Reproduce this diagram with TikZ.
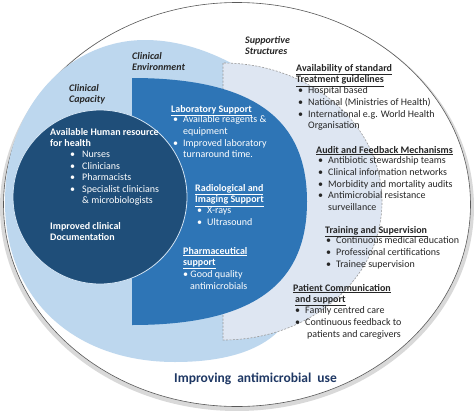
\documentclass[tikz,border=0pt]{standalone}
\usepackage{fontspec}
\setmainfont{Carlito}
\definecolor{capblue}{HTML}{1F4E79}
\definecolor{envblue}{HTML}{2E75B6}
\definecolor{paleblue}{HTML}{BDD7EE}
\definecolor{suppblue}{HTML}{DEE6F2}
\definecolor{titleblue}{HTML}{1F3864}
\definecolor{txtgray}{HTML}{262626}
\newcommand{\blt}{\makebox[10pt][l]{\textbullet}}
\newcommand{\cnt}{\hspace*{10pt}}

\begin{document}
\begin{tikzpicture}[x=1pt, y=-1pt,
    txt/.style = {anchor=north west, inner sep=0pt, align=left, font=\fontsize{10}{11.6}\selectfont},
    head/.style = {txt, font=\fontsize{10}{11.6}\selectfont\bfseries},
    lbl/.style = {head, font=\fontsize{10}{11.6}\selectfont\bfseries\itshape, text=txtgray},
    inner/.style = {text=white},
    outer/.style = {text=txtgray}]

    \useasboundingbox (0,0) rectangle (474,410);

    % rings
    \fill[gray!30] (237,207) ellipse[x radius=237, y radius=204];
    \filldraw[fill=white, draw=gray!70!black, line width=0.6pt] (237,204.5) ellipse[x radius=233.5, y radius=202];
    \fill[paleblue] (5,202) .. controls (5,105) and (70,40) .. (145,40)
        .. controls (200,40) and (250,70) .. (285,100)
        .. controls (330,150) and (330,255) .. (292,312)
        .. controls (275,348) and (230,362) .. (175,362)
        .. controls (75,362) and (5,300) .. (5,202);
    \filldraw[fill=suppblue, draw=gray!80, line width=0.6pt, dash pattern=on 2pt off 1.5pt]
        (223,63) -- (223,340) arc[start angle=90, end angle=-90, x radius=159, y radius=138.5] -- cycle;
    \fill[envblue] (132,78) .. controls (255,78) and (307,120) .. (307,201.5)
        .. controls (307,283) and (255,325) .. (132,325) -- cycle;
    \filldraw[fill=capblue, draw=paleblue!70!white, line width=0.8pt] (100,197) circle[radius=87];

    %--------------------------------------------

    \node[lbl] (sup) at (245,35.8) {Supportive\\Structures};
    \node[lbl] (env) at (132,51.8) {Clinical\\Environment};
    \node[lbl] (cap) at (69,83.8) {Clinical\\Capacity};

    %--------------------------------------------

    \node[head, inner] (hr) at (50,127.8) {Available Human resource\\for health};
    \node[txt, inner] (hrl) at (70,150.8) {\blt\hspace*{2pt}Nurses\\\blt\hspace*{2pt}Clinicians\\\blt\hspace*{2pt}Pharmacists\\
        \blt\hspace*{2pt}Specialist clinicians\\\cnt\hspace*{2pt}\& microbiologists};
    \node[head, inner] (doc) at (50,221.8) {Improved clinical\\Documentation};

    %--------------------------------------------

    \node[head, inner] (lab) at (171,104.8) {\underline{Laboratory Support}};
    \node[txt, inner] (labl) at (173,115.8) {\blt Available reagents \&\\\cnt equipment\\\blt Improved laboratory\\\cnt turnaround time.};
    \node[head, inner] (rad) at (195,183.8) {\underline{Radiological and}\\\underline{Imaging Support}};
    \node[txt, inner] (radl) at (197,206.8) {\blt X-rays\\\blt Ultrasound};
    \node[head, inner] (pha) at (183,246.8) {\underline{Pharmaceutical}\\\underline{support}};
    \node[txt, inner] (phal) at (183,270.8) {\textbullet\ Good quality\\\hspace*{7pt}antimicrobials};

    %--------------------------------------------

    \node[head, outer] (std) at (296,63.8) {\underline{Availability of standard}\\\underline{Treatment guidelines}};
    \node[txt, outer] (stdl) at (298,86.8) {\blt Hospital based\\\blt National (Ministries of Health)\\
        \blt International e.g. World Health\\\cnt Organisation};
    \node[head, outer] (aud) at (316,145.8) {\underline{Audit and Feedback Mechanisms}};
    \node[txt, outer] (audl) at (318,156.8) {\blt Antibiotic stewardship teams\\\blt Clinical information networks\\
        \blt Morbidity and mortality audits\\\blt Antimicrobial resistance\\\cnt surveillance};
    \node[head, outer] (trn) at (325,225.8) {\underline{Training and Supervision}};
    \node[txt, outer] (trnl) at (326,236.8) {\blt Continuous medical education\\\blt Professional certifications\\\blt Trainee supervision};
    \node[head, outer] (pat) at (293,283.8) {\underline{Patient Communication}\\\hspace*{2pt}\underline{and support}};
    \node[txt, outer] (patl) at (295,306.8) {\blt Family centred care\\\blt Continuous feedback to\\\cnt\hspace*{2pt}patients and caregivers};

    %--------------------------------------------

    \node[inner sep=0pt, font=\fontsize{13.5}{15}\selectfont\bfseries, text=titleblue] (use) at (255.5,379)
        {Improving\hspace{3pt} antimicrobial\hspace{3pt} use};

\end{tikzpicture}
\end{document}
